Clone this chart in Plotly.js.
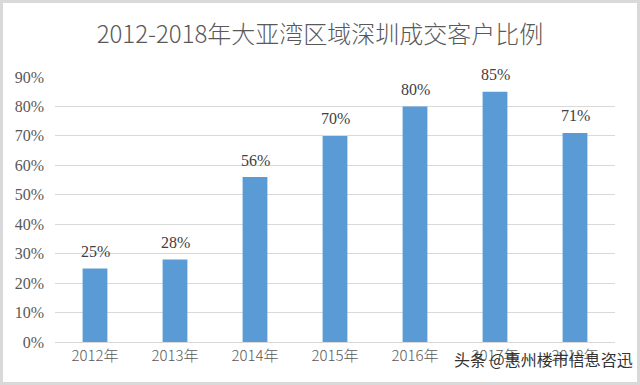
<!DOCTYPE html>
<html><head><meta charset="utf-8">
<script src="https://cdn.plot.ly/plotly-3.0.1.min.js"></script>
<style>
html,body{margin:0;padding:0;background:#fff;}
#wrap{position:relative;width:640px;height:385px;}
#chart{width:640px;height:385px;}
#frame{position:absolute;left:0;top:0;width:640px;height:385px;box-sizing:border-box;border:3px solid #d9d9d9;pointer-events:none;}
</style></head>
<body><div id="wrap"><div id="chart"></div><div id="frame"></div></div>
<script>
const categories = ["2012年","2013年","2014年","2015年","2016年","2017年","2018年"];
const values = [0.25,0.28,0.56,0.70,0.80,0.85,0.71];
const yTickVals = [0,0.1,0.2,0.3,0.4,0.5,0.6,0.7,0.8,0.9];
const yTickText = ["0%","10%","20%","30%","40%","50%","60%","70%","80%","90%"];
const titleText = "2012-2018年大亚湾区域深圳成交客户比例";
const watermark = "头条 @惠州楼市信息咨迅";

const serif = 'Liberation Serif, Times New Roman, serif';
const sans = 'Noto Sans CJK SC, sans-serif';

const labelAnns = categories.map((c,i)=>({
  x:c, y:values[i], xref:'x', yref:'y', text:Math.round(values[i]*100)+'%',
  showarrow:false, yanchor:'middle', xanchor:'center', yshift:17,
  font:{family:serif, size:16, color:'#404040'}
}));

Plotly.newPlot('chart', [{
  type:'bar', x:categories, y:values,
  marker:{color:'#5B9BD5'},
  width:0.31,
  hoverinfo:'none'
}], {
  width:640, height:385,
  margin:{l:55,r:25,t:77,b:43},
  paper_bgcolor:'#fff', plot_bgcolor:'#fff',
  title:{text:titleText, x:0.5, xanchor:'center', y:0.91, yanchor:'middle',
    font:{family:sans, size:24, color:'#595959', weight:300}},
  xaxis:{showgrid:false, showline:true, linecolor:'#d9d9d9', linewidth:1, ticks:'',
    tickfont:{family:sans, size:15, color:'#595959', weight:300}},
  yaxis:{range:[0,0.9], tickvals:yTickVals, ticktext:yTickText, showgrid:true, gridcolor:'#d9d9d9',
    zeroline:false, showline:false, ticks:'', ticklen:0, ticklabelstandoff:10,
    tickfont:{family:serif, size:16, color:'#595959'}},
  showlegend:false,
  annotations:labelAnns.concat([{text:watermark, xref:'paper', yref:'paper', x:1.035, y:-0.065, xanchor:'right', yanchor:'middle',
    showarrow:false, font:{family:sans, size:16, color:'#333'}}])
}, {displayModeBar:false, staticPlot:true});
</script></body></html>
